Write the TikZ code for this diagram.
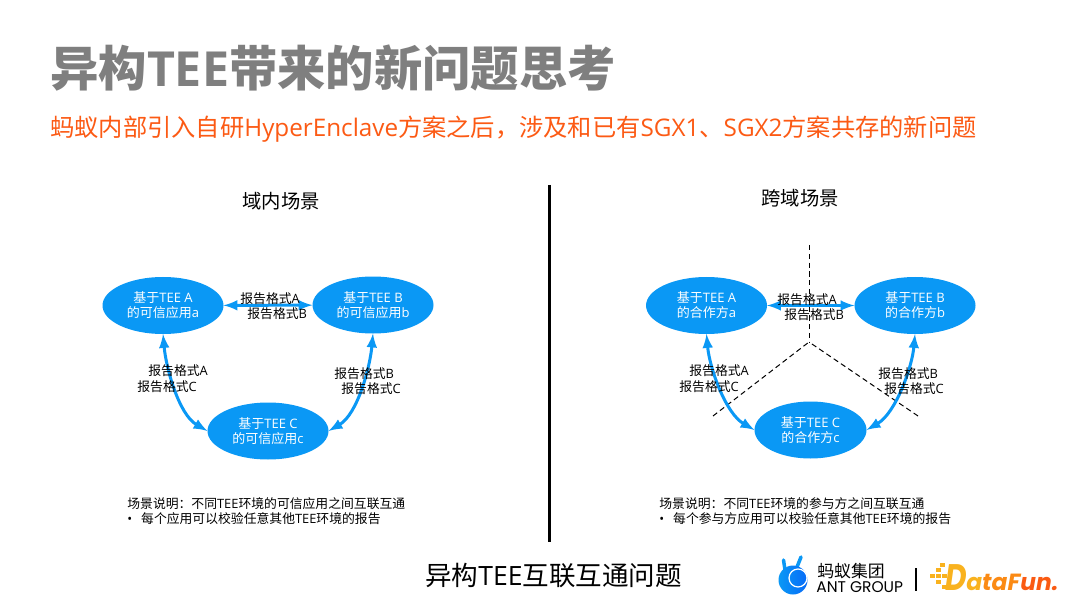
\documentclass[tikz,border=0pt]{standalone}
\usepackage{fontspec}
\setmainfont{Noto Sans CJK SC}
\newfontfamily\latfont{Open Sans}
\newfontfamily\logofont{Poppins}
\newcommand{\lat}[1]{{\latfont #1}}
\usetikzlibrary{arrows,shapes.geometric}
\definecolor{teeblue}{HTML}{0A98F5}
\definecolor{titlegray}{HTML}{7F7F7F}
\definecolor{suborange}{HTML}{FC5A14}
\definecolor{dfyellow}{HTML}{F9B21E}
\definecolor{dforange}{HTML}{FB8A14}
\definecolor{dfred}{HTML}{FA5A12}
\tikzset{
  tee/.style={ellipse,fill=teeblue,text=white,minimum width=2.42cm,minimum height=1.14cm,inner sep=0pt,outer sep=0pt,align=center,font=\fontsize{7.4}{8.5}\selectfont},
  flow/.style={teeblue,line width=0.06cm,latex-latex},
  fmt/.style={anchor=west,inner sep=0pt,font=\fontsize{7.3}{8.5}\selectfont},
  note/.style={anchor=west,inner sep=0pt,font=\fontsize{7.3}{8.5}\selectfont},
  head/.style={inner sep=0pt,font=\fontsize{11}{12}\selectfont},
  border/.style={black,densely dashed,line width=0.02cm}
}
\begin{document}
\begin{tikzpicture}
\useasboundingbox (0cm,0cm) rectangle (21.6cm,-12.16cm);
\fill[white] (0cm,0cm) rectangle (21.6cm,-12.16cm);
\node[anchor=west,inner sep=0pt,text=titlegray,font=\fontsize{27.5}{30}\selectfont\bfseries] (title) at (1 cm,-1.36cm) {异构\lat{TEE}带来的新问题思考};
\node[anchor=west,inner sep=0pt,text=suborange,font=\fontsize{13.8}{16}\selectfont] (subtitle) at (1 cm,-2.58cm) {蚂蚁内部引入自研\lat{HyperEnclave}方案之后，涉及和已有\lat{SGX1}、\lat{SGX2}方案共存的新问题};
\node[head] (headL) at (5.62 cm,-4.02cm) {域内场景};
\node[head] (headR) at (16 cm,-3.96cm) {跨域场景};
\coordinate (divT) at (10.98 cm,-3.7cm);
\coordinate (divB) at (10.98 cm,-10.84cm);
\draw[black,line width=0.06cm] (divT) -- (divB);
% left
\node[tee] (lA) at (3.26 cm,-6.11cm) {基于\lat{TEE A}\\的可信应用\lat{a}};
\node[tee] (lB) at (7.46 cm,-6.1cm) {基于\lat{TEE B}\\的可信应用\lat{b}};
\node[tee] (lC) at (5.36 cm,-8.62cm) {基于\lat{TEE C}\\的可信应用\lat{c}};
\draw[flow] (lA) -- (lB);
\draw[flow] (lA.south) to[out=-85,in=150,looseness=0.8] (lC.west);
\draw[flow] (lB.south) to[out=-95,in=30,looseness=0.8] (lC.east);
\node[fmt] (lab1) at (4.8 cm,-5.98cm) {报告格式\lat{A}};
\node[fmt] (lab2) at (4.94 cm,-6.28cm) {报告格式\lat{B}};
\node[fmt] (lac1) at (2.96 cm,-7.42cm) {报告格式\lat{A}};
\node[fmt] (lac2) at (2.74 cm,-7.74cm) {报告格式\lat{C}};
\node[fmt] (lbc1) at (6.68 cm,-7.48cm) {报告格式\lat{B}};
\node[fmt] (lbc2) at (6.82 cm,-7.78cm) {报告格式\lat{C}};
\node[note] (lnote1) at (2.54 cm,-10.08cm) {场景说明：不同\lat{TEE}环境的可信应用之间互联互通};
\node[note] (lnote2) at (2.54 cm,-10.38cm) {\lat{•}\hspace{0.18cm}每个应用可以校验任意其他\lat{TEE}环境的报告};
% right
\coordinate (midR) at (16.18 cm,-6.84cm);
\coordinate (topR) at (16.18 cm,-4.9cm);
\coordinate (lowL) at (14.26 cm,-8.32cm);
\coordinate (lowR) at (18.36 cm,-8.32cm);
\draw[border] (topR) -- (midR);
\draw[border] (lowL) -- (midR);
\draw[border] (lowR) -- (midR);
\node[tee] (rA) at (14.13 cm,-6.11cm) {基于\lat{TEE A}\\的合作方\lat{a}};
\node[tee] (rB) at (18.3 cm,-6.11cm) {基于\lat{TEE B}\\的合作方\lat{b}};
\node[tee,minimum width=2.24cm] (rC) at (16.21 cm,-8.6cm) {基于\lat{TEE C}\\的合作方\lat{c}};
\draw[flow] (rA) -- (rB);
\draw[flow] (rA.south) to[out=-85,in=150,looseness=0.8] (rC.west);
\draw[flow] (rB.south) to[out=-95,in=30,looseness=0.8] (rC.east);
\node[fmt] (rab1) at (15.54 cm,-6cm) {报告格式\lat{A}};
\node[fmt] (rab2) at (15.68 cm,-6.3cm) {报告格式\lat{B}};
\node[fmt] (rac1) at (13.78 cm,-7.42cm) {报告格式\lat{A}};
\node[fmt] (rac2) at (13.58 cm,-7.74cm) {报告格式\lat{C}};
\node[fmt] (rbc1) at (17.56 cm,-7.48cm) {报告格式\lat{B}};
\node[fmt] (rbc2) at (17.68 cm,-7.78cm) {报告格式\lat{C}};
\node[note] (rnote1) at (13.18 cm,-10.08cm) {场景说明：不同\lat{TEE}环境的参与方之间互联互通};
\node[note] (rnote2) at (13.18 cm,-10.38cm) {\lat{•}\hspace{0.18cm}每个参与方应用可以校验任意其他\lat{TEE}环境的报告};
% bottom
\node[anchor=west,inner sep=0pt,font=\fontsize{15.1}{17}\selectfont] (bottom) at (8.5 cm,-11.52cm) {异构\lat{TEE}互联互通问题};
\draw[teeblue,line width=0.07cm,line cap=round] (15.7 cm,-11.4cm) -- (15.67 cm,-11.2cm);
\draw[teeblue,line width=0.07cm,line cap=round] (15.94 cm,-11.34cm) -- (16.02 cm,-11.14cm);
\shade[left color=teeblue,right color=teeblue!70!blue] (15.86 cm,-11.6cm) circle (0.29cm);
\draw[white,line width=0.025cm] (15.96 cm,-11.56cm) circle (0.18cm);
\node[anchor=west,inner sep=0pt,font=\fontsize{9.6}{11}\selectfont] (antcn) at (16.34 cm,-11.42cm) {蚂蚁集团};
\node[anchor=west,inner sep=0pt,font=\logofont\fontsize{8.8}{10}\selectfont] (anten) at (16.32 cm,-11.74cm) {ANT GROUP};
\draw[black,line width=0.03cm] (18.32 cm,-11.36cm) -- (18.32 cm,-11.82cm);
\foreach \sx/\sy in {18.6/-11.56,18.72/-11.44,18.72/-11.68,18.84/-11.56,18.84/-11.78,18.72/-11.56,18.8/-11.34}
  \fill[dfyellow] (\sx cm,\sy cm) rectangle ++(0.09cm,0.09cm);
\node[anchor=base west,inner sep=0pt,xscale=0.8,text=dfyellow,font=\logofont\bfseries\itshape\fontsize{21}{22}\selectfont] (dfD) at (18.9 cm,-11.8cm) {D};
\node[anchor=base west,inner sep=0pt,font=\logofont\bfseries\itshape\fontsize{13.3}{14}\selectfont] (dfrest) at (19.32 cm,-11.8cm) {\textcolor{dfyellow}{a}\textcolor{dforange}{taF}\textcolor{dfred}{un.}};
\end{tikzpicture}
\end{document}
